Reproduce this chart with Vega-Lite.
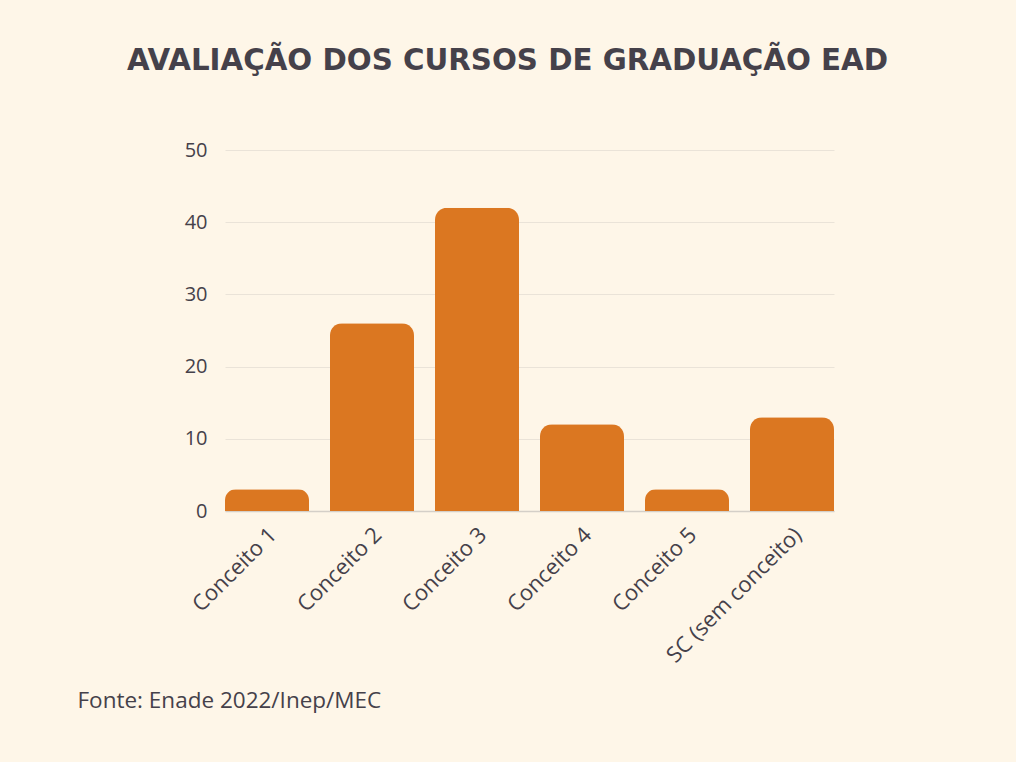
{
  "$schema": "https://vega.github.io/schema/vega-lite/v6.json",
  "autosize": "none",
  "width": 609,
  "height": 361,
  "padding": {"left": 225, "top": 150, "right": 182, "bottom": 251},
  "background": "#FEF6E8",
  "title": {
    "text": "AVALIAÇÃO DOS CURSOS DE GRADUAÇÃO EAD",
    "anchor": "middle",
    "dx": -22,
    "offset": 41,
    "baseline": "alphabetic",
    "font": "DejaVu Sans",
    "fontSize": 29.3,
    "fontWeight": "bold",
    "color": "#45414A",
    "limit": 1000
  },
  "config": {
    "view": {"stroke": null}
  },
  "data": {
    "values": [
      {"conceito": "Conceito 1", "valor": 3},
      {"conceito": "Conceito 2", "valor": 26},
      {"conceito": "Conceito 3", "valor": 42},
      {"conceito": "Conceito 4", "valor": 12},
      {"conceito": "Conceito 5", "valor": 3},
      {"conceito": "SC (sem conceito)", "valor": 13}
    ]
  },
  "mark": {
    "type": "bar",
    "color": "#DB7721",
    "cornerRadiusTopLeft": 12,
    "cornerRadiusTopRight": 12
  },
  "encoding": {
    "x": {
      "field": "conceito",
      "type": "nominal",
      "sort": null,
      "scale": {"paddingInner": 0.2, "paddingOuter": 0},
      "axis": {
        "title": "Fonte: Enade 2022/Inep/MEC",
        "titleX": -148,
        "titleY": 196,
        "titleAnchor": "start",
        "titleAlign": "left",
        "titleBaseline": "alphabetic",
        "titleFont": "Open Sans",
        "titleFontSize": 22.5,
        "titleFontWeight": "normal",
        "titleColor": "#45414A",
        "labelAngle": -45,
        "labelAlign": "right",
        "labelBaseline": "middle",
        "labelFont": "Open Sans",
        "labelFontSize": 22,
        "labelColor": "#45414A",
        "labelPadding": 20,
        "labelOffset": 6,
        "labelLimit": 400,
        "labelOverlap": false,
        "ticks": false,
        "domainColor": "#D4CFC8",
        "domainWidth": 1.5
      }
    },
    "y": {
      "field": "valor",
      "type": "quantitative",
      "scale": {"domain": [0, 50]},
      "axis": {
        "title": null,
        "values": [0, 10, 20, 30, 40, 50],
        "domain": false,
        "ticks": false,
        "labelPadding": 18,
        "labelFont": "Open Sans",
        "labelFontSize": 20,
        "labelColor": "#45414A",
        "gridColor": "#EAE3D8",
        "gridWidth": 1.2
      }
    }
  }
}
